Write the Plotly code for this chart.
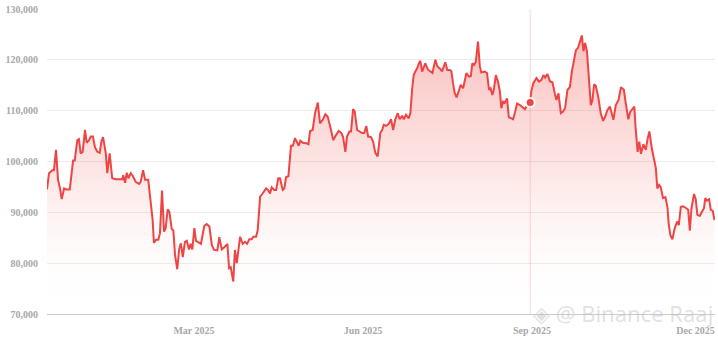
import pandas as pd
import plotly.graph_objects as go

start_date = "2024-12-11"
# days since start_date
day_offsets = [
    0.0, 1.1, 2.9, 3.8, 4.9, 6.0, 7.1, 8.0, 9.3, 10.5, 12.4, 14.2, 15.1, 16.5, 17.4, 18.3, 19.4,
    20.7, 21.6, 22.9, 23.8, 25.0, 26.1, 27.4, 28.7, 29.6, 30.5, 32.0, 32.8, 34.1, 35.5, 37.4,
    39.2, 41.0, 41.5, 42.5, 43.4, 44.3, 45.6, 46.8, 48.3, 50.1, 51.0, 52.3, 53.4, 55.1, 56.5,
    57.5, 58.2, 59.3, 60.6, 61.5, 62.6, 63.7, 64.6, 65.7, 66.6, 67.9, 68.8, 69.7, 70.9, 72.0,
    72.9, 73.9, 75.1, 76.1, 77.3, 78.2, 79.1, 80.2, 81.1, 82.7, 83.8, 85.6, 86.9, 88.4, 89.7,
    90.9, 92.7, 93.8, 95.1, 96.4, 98.2, 99.1, 100.0, 101.4, 102.3, 103.3, 105.1, 106.5, 107.8,
    108.9, 110.1, 111.4, 112.3, 113.8, 114.7, 116.0, 117.4, 119.2, 120.3, 121.4, 122.3, 123.7,
    124.7, 125.9, 126.8, 128.3, 129.2, 130.1, 131.4, 132.8, 133.8, 135.0, 136.1, 137.0, 137.9,
    139.2, 141.0, 142.3, 143.2, 144.6, 145.9, 147.4, 148.6, 150.1, 151.5, 152.8, 154.6, 155.8,
    157.3, 158.8, 160.2, 161.1, 162.4, 163.3, 164.6, 165.5, 166.6, 167.5, 168.8, 170.0, 171.5,
    172.7, 173.8, 174.8, 176.4, 177.5, 178.7, 180.0, 181.4, 182.4, 183.3, 184.6, 186.0, 187.3,
    188.4, 189.6, 190.9, 192.0, 193.3, 194.2, 195.4, 196.9, 197.8, 198.7, 199.6, 200.5, 201.4,
    202.4, 203.2, 204.2, 205.1, 205.9, 207.3, 208.7, 209.8, 211.4, 212.5, 213.8, 215.0, 216.8,
    217.9, 219.2, 220.1, 221.0, 221.9, 223.0, 224.1, 225.2, 226.5, 228.3, 229.6, 230.7, 231.5,
    232.5, 233.4, 234.6, 235.6, 236.4, 238.3, 239.5, 240.6, 241.5, 242.4, 243.2, 244.3, 245.5,
    246.5, 247.3, 248.3, 249.2, 250.4, 251.4, 252.8, 253.7, 254.6, 255.9, 257.4, 258.6, 260.1,
    261.5, 263.0, 263.6, 264.7, 266.4, 267.8, 269.1, 270.2, 271.1, 272.4, 273.7, 275.1, 276.4,
    277.3, 278.4, 279.7, 280.9, 282.0, 283.3, 284.6, 285.7, 286.9, 287.9, 289.1, 290.2, 291.1,
    292.0, 292.9, 293.9, 295.1, 296.0, 296.9, 297.8, 298.7, 300.0, 301.4, 302.7, 303.8, 305.0,
    306.4, 307.2, 308.3, 309.6, 311.1, 312.4, 314.0, 314.9, 316.4, 317.5, 318.6, 319.7, 320.4,
    321.5, 322.4, 323.3, 324.6, 325.9, 327.0, 327.9, 329.2, 330.4, 331.4, 332.2, 333.2, 334.1,
    335.3, 336.6, 337.7, 338.4, 339.3, 340.4, 341.7, 343.0, 343.9, 345.0, 346.2, 348.0, 349.0,
    349.9, 350.8, 352.2, 353.1, 354.0, 355.3, 356.5, 357.6, 358.3, 359.2, 360.4, 361.3, 362.4,
    363.3,
]
# price in thousands USD
prices_k = [
    94.5, 97.7, 98.3, 98.3, 102.3, 96.4, 94.7, 92.6, 94.7, 94.5, 94.5, 100.2, 100.2, 104.2, 104.4, 101.6, 101.9,
    106.2, 103.7, 104.2, 104.9, 104.9, 102.8, 101.9, 101.7, 103.9, 104.8, 101.6, 97.7, 101.6, 96.7, 96.5,
    96.5, 96.5, 97.3, 95.8, 97.8, 96.7, 97.7, 97.1, 96.0, 95.6, 96.0, 98.3, 96.4, 96.4, 91.8,
    88.5, 84.0, 84.6, 84.6, 85.9, 94.3, 86.2, 86.9, 90.6, 90.1, 86.7, 86.4, 81.6, 78.8, 82.9,
    83.9, 81.2, 84.2, 84.4, 82.7, 83.8, 82.7, 86.9, 84.4, 84.0, 83.8, 87.3, 87.7, 87.2, 83.6,
    82.6, 82.5, 85.1, 82.7, 83.1, 83.8, 79.0, 79.2, 76.4, 82.6, 80.0, 85.2, 83.8, 84.2,
    83.8, 84.7, 84.7, 85.2, 85.2, 86.5, 93.1, 93.7, 94.7, 94.4, 93.7, 94.9, 94.4,
    94.4, 96.7, 96.7, 94.4, 94.7, 96.9, 97.1, 103.1, 103.1, 104.6, 103.7, 103.1, 104.1,
    103.7, 103.6, 103.4, 106.0, 106.2, 109.5, 111.6, 107.5, 108.2, 109.3, 108.8, 106.2, 104.2,
    105.2, 106.0, 105.6, 104.9, 101.9, 104.9, 105.9, 105.9, 110.3, 109.8, 106.2, 106.0, 105.6,
    105.6, 107.0, 104.9, 104.8, 103.9, 101.7, 101.0, 105.6, 106.2, 107.2, 107.0, 107.4, 108.3,
    106.2, 108.3, 109.5, 108.3, 109.0, 108.3, 109.2, 108.5, 109.5, 114.1, 117.0, 117.7, 118.3,
    119.3, 119.8, 117.7, 118.5, 119.3, 118.1, 117.7, 117.4, 120.0, 118.7, 118.3, 117.7, 119.5,
    118.0, 118.0, 117.8, 115.4, 113.5, 112.6, 114.1, 115.1, 114.4, 117.4, 116.7, 116.8, 119.3,
    119.0, 119.6, 123.6, 118.7, 117.5, 117.7, 117.4, 114.1, 114.4, 113.1, 114.1, 117.0, 115.7,
    113.8, 110.5, 111.8, 111.6, 112.4, 108.7, 108.5, 108.3, 109.5, 111.4, 111.1, 110.7, 110.3,
    111.1, 111.6, 113.8, 115.4, 116.4, 115.7, 116.0, 117.0, 116.5, 117.2, 115.8, 115.6, 113.4,
    112.1, 113.4, 109.5, 109.8, 110.5, 114.1, 114.6, 117.7, 120.3, 121.9, 122.4, 123.6, 124.8,
    121.7, 123.3, 121.7, 115.1, 111.1, 112.1, 115.2, 114.9, 112.8, 109.5, 108.0, 108.8, 110.1,
    110.8, 109.5, 108.2, 111.1, 112.1, 114.6, 114.1, 111.8, 108.3, 109.8, 110.3, 110.8, 106.5,
    101.9, 103.9, 101.5, 103.4, 102.3, 104.6, 105.9, 102.6, 100.6, 98.7, 94.7, 95.4, 94.9,
    92.8, 93.0, 91.1, 87.8, 85.5, 84.7, 86.9, 88.2, 87.5, 91.1, 91.2, 90.8, 90.5,
    86.4, 90.8, 93.6, 92.6, 89.5, 89.3, 90.1, 90.8, 92.8, 92.3, 92.6, 90.5, 90.3,
    88.5,
]
y_ticks = [70000, 80000, 90000, 100000, 110000, 120000, 130000]
# last label is pulled in from the right edge, as in the reference
x_tick_dates = ["2025-03-01", "2025-06-01", "2025-09-01", "2025-11-29"]
x_tick_labels = ["Mar 2025", "Jun 2025", "Sep 2025", "Dec 2025"]
hover_date_offset = 263.0
hover_price_k = 111.6
x_end_offset = 363.6

start = pd.Timestamp(start_date)
dates = start + pd.to_timedelta(day_offsets, unit="D")
prices = [p * 1000 for p in prices_k]
hover_date = start + pd.Timedelta(days=hover_date_offset)
x_end = start + pd.Timedelta(days=x_end_offset)

LINE = "#ef4444"

fig = go.Figure()
fig.add_trace(go.Scatter(
    x=dates, y=prices, mode="lines",
    line=dict(color=LINE, width=2),
    fill="tozeroy",
    fillgradient=dict(
        type="vertical",
        start=70000, stop=125000,
        colorscale=[[0, "rgba(255,255,255,0)"], [0.5, "rgba(244,120,115,0.18)"], [1, "rgba(240,90,85,0.38)"]],
    ),
    hoverinfo="skip", showlegend=False,
))
# hover crosshair + marker
fig.add_shape(type="line", xref="x", yref="paper", x0=hover_date, x1=hover_date, y0=0, y1=1,
              line=dict(color="rgba(240,100,100,0.25)", width=1), layer="above")
fig.add_trace(go.Scatter(
    x=[hover_date], y=[hover_price_k * 1000], mode="markers",
    marker=dict(color=LINE, size=9, line=dict(color="white", width=2)),
    hoverinfo="skip", showlegend=False,
))

fig.add_annotation(
    xref="paper", yref="paper", x=1.0, y=0.004, xanchor="right", yanchor="middle",
    text="◈ @ Binance Raaj", showarrow=False,
    font=dict(family="Noto Sans, DejaVu Sans", size=22, color="rgba(190,190,190,0.45)"),
)

tick_font = dict(family="Liberation Serif, DejaVu Serif", size=10, color="#a8a8a8", weight="bold")

fig.update_layout(
    width=718, height=340,
    margin=dict(l=47, r=3, t=9, b=26),
    paper_bgcolor="white", plot_bgcolor="white",
    xaxis=dict(
        range=[start, x_end], tickvals=pd.to_datetime(x_tick_dates), ticktext=x_tick_labels,
        showgrid=False, showline=True, linecolor="#cccccc", linewidth=1,
        ticks="", tickfont=tick_font, ticklabelstandoff=7, zeroline=False,
    ),
    yaxis=dict(
        range=[70000, 130000], tickvals=y_ticks, tickformat=",d",
        showgrid=True, gridcolor="#ececec", gridwidth=1,
        ticks="", tickfont=tick_font, ticklabelstandoff=8, zeroline=False, showline=False,
    ),
)

fig.write_html("out.html")
